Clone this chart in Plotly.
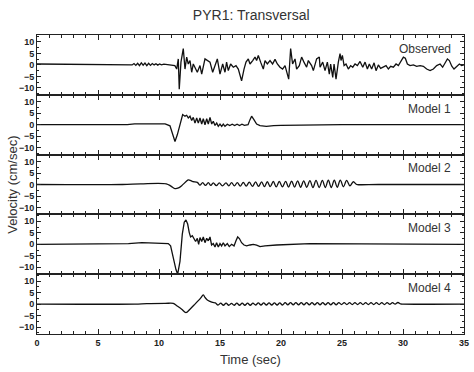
import plotly.graph_objects as go
from plotly.subplots import make_subplots

panel_labels = ["Observed", "Model 1", "Model 2", "Model 3", "Model 4"]
y_tick_step = 5
x_tick_step = 5

t_obs = [0, 3, 6, 7.6, 7.8, 7.95, 8.1, 8.25, 8.4, 8.55, 8.7, 8.85, 9.0, 9.15, 9.3, 9.45, 9.6, 9.75, 9.9,
         10.05, 10.2, 10.4, 10.6, 10.8, 11.0, 11.3,
         11.45, 11.58, 11.66, 11.80, 11.99, 12.13, 12.27, 12.40, 12.54, 12.68, 12.81, 12.95, 13.14, 13.36,
         13.50, 13.77, 14.04, 14.18, 14.40, 14.59, 14.78, 15.00, 15.22, 15.41, 15.54, 15.68, 15.87, 16.09,
         16.31, 16.50, 16.77, 16.97, 17.13, 17.32, 17.46, 17.68, 17.87, 18.00, 18.14, 18.33, 18.55, 18.69,
         18.88, 19.10, 19.31, 19.51, 19.70, 19.92, 20.13, 20.33, 20.46, 20.63, 20.79, 20.95, 21.15, 21.28,
         21.50, 21.69, 21.88, 22.10, 22.24, 22.51, 22.65, 22.92, 23.14,
         23.20, 23.42, 23.61, 23.80, 23.96, 24.07, 24.24, 24.35, 24.51, 24.70, 24.84, 24.92, 25.03, 25.17,
         25.33, 25.52, 25.71, 25.88, 26.07, 26.26, 26.48, 26.70, 26.89, 27.08, 27.24, 27.43, 27.63, 27.79,
         27.98, 28.17, 28.39, 28.61, 28.80, 28.99, 29.21, 29.43, 29.62, 29.81, 30.03, 30.19, 30.36, 30.58,
         30.85, 31.12, 31.40, 31.67, 31.94, 32.22, 32.49, 32.76, 33.04, 33.25, 33.45, 33.64, 33.80, 34.00,
         34.18, 34.40, 34.62, 34.81, 35.0]
v_obs = [0.4, 0.3, 0.1, 0.0, 0.0, 0.6, -0.2, 0.7, -0.3, 0.9, -0.1, 0.8, -0.3, 0.7, -0.2, 0.6, 0.0, 0.5, -0.1,
         0.4, 0.0, 0.3, 0.1, 0.2, 0.0, -0.3,
         -1.8, 2.6, -10.6, 1.2, 7.1, -1.8, 3.4, 0.4, 1.9, -3.2, 0.4, -1.0, -3.2, -0.3,
         -4.0, 2.6, 1.9, 1.2, -3.2, -0.3, 2.6, -4.0, 0.4, -3.2, 1.2, -2.5, 0.4, -1.0,
         -0.3, -1.8, -6.9, -1.8, 1.2, 2.6, 0.4, 1.9, 3.4, 1.9, 4.1, 1.2, -1.8, 1.9,
         0.4, 1.9, 0.4, 2.4, 0.4, -1.0, -1.8, -0.3, -3.2, -6.2, 7.1, 0.4, 2.6, -1.8,
         -0.3, 3.4, 1.2, -1.0, 1.9, -0.3, -2.5, 2.6, 3.4,
         -1.0, 1.2, -2.5, 1.2, -4.0, 0.4, -5.4, 0.4, -6.2, 1.2, 4.9, 1.9, 4.1, -0.3,
         0.4, -1.8, -0.3, -1.0, 0.4, -0.3, 1.5, -1.0, 1.2, -1.8, 0.4, -1.8, 0.9, -2.5,
         0.0, -1.5, -1.0, -0.3, -1.8, -0.6, -1.0, 0.4, -0.3, 1.2, 3.4, 2.9, 0.4, -0.3,
         0.0, -0.6, -0.3, -0.6, -1.8, -2.5, -1.8, -0.3, 0.4, -1.0, 1.2, 2.6, 1.9, -0.6,
         -1.8, -0.6, 0.4, -0.3, 0.0]

t_m1 = [0, 7.4, 8.0, 9.5, 10.5, 10.9, 11.17, 11.31, 11.5, 11.72, 11.94, 12.13, 12.27, 12.4, 12.54, 12.68,
        12.81, 12.95, 13.09, 13.22, 13.36, 13.5, 13.63, 13.77, 13.91, 14.04, 14.18, 14.32, 14.45, 14.59,
        14.73, 14.86, 15.0, 15.14, 15.27, 15.41, 15.6, 15.8, 16.0, 16.2, 16.4, 16.6, 16.8, 17.0, 17.15,
        17.3, 17.46, 17.59, 17.78, 18.0, 18.28, 18.8, 19.4, 20, 25, 30, 30.9, 31.5, 35]
v_m1 = [0, 0, 0.4, 0.5, 0.4, -0.5, -5.0, -7.3, -4.4, 0.7, 4.4, 3.7, 4.1, 2.9, 3.7, 1.8,
        3.2, 0.7, 2.9, 0.7, 2.9, 0.3, 2.6, 0.0, 2.6, 0.3, 3.2, 0.3, 1.5, -0.3,
        0.7, -0.7, 0.3, -0.7, 0.3, -0.7, 0.2, -0.4, 0.2, -0.4, 0.2, -0.4, 0.2, -0.3, 0.0,
        0.0, 2.2, 3.7, 2.2, 0.3, -0.4, -0.7, -0.4, -0.3, 0.0, 0.1, 0.3, 0.0, 0.0]

t_m2 = [0, 7, 8.5, 10.6, 10.98, 11.31, 11.6, 11.86, 12.27, 12.4, 12.68, 12.81,
        13.14, 13.36, 13.58, 13.81, 14.04, 14.25, 14.45, 14.7, 14.94, 15.2, 15.49, 15.72, 15.95, 16.18,
        16.42, 16.66, 16.91, 17.15, 17.40, 17.66, 17.92, 18.16, 18.41, 18.64, 18.88, 19.12, 19.37, 19.61,
        19.86, 20.12, 20.38, 20.62, 20.87, 21.11, 21.36, 21.61, 21.86, 22.11, 22.37, 22.62, 22.87, 23.13,
        23.39, 23.63, 23.88, 24.12, 24.37, 24.61, 24.86, 25.12, 25.38, 25.65, 25.93, 26.2, 26.5, 28, 35]
v_m2 = [0, 0, 0.3, 0.3, -0.7, -1.8, -1.5, -0.5, 1.5, 2.0, 1.5, 1.2,
        0.9, -0.3, 0.8, -0.4, 0.8, -0.4, 0.7, -0.5, 0.7, -0.6, 0.7, -0.6, 0.8, -0.6,
        0.8, -0.7, 0.9, -0.7, 1.0, -0.8, 1.1, -0.8, 1.1, -0.9, 1.2, -0.9, 1.3, -1.0,
        1.3, -1.0, 1.4, -1.1, 1.5, -1.1, 1.6, -1.2, 1.6, -1.2, 1.7, -1.3, 1.8, -1.3,
        1.8, -1.3, 1.9, -1.3, 1.9, -1.2, 1.9, -1.0, 1.8, -0.6, 1.2, 0.0, -0.1, 0.0, 0.0]

t_m3 = [0, 6.5, 7.5, 8.6, 9.5, 10.5, 10.76, 10.95, 11.17, 11.39, 11.53, 11.72, 11.91, 12.07, 12.21,
        12.35, 12.48, 12.59, 12.73, 12.87, 13.0, 13.14, 13.25, 13.36, 13.5, 13.63, 13.77, 13.91, 14.04,
        14.18, 14.31, 14.45, 14.59, 14.72, 14.86, 15.0, 15.13, 15.27, 15.41, 15.6, 15.76, 15.95, 16.15,
        16.31, 16.45, 16.59, 16.77, 16.97, 17.18, 17.46, 17.73, 18.0, 18.28, 18.69, 19.64, 22.37, 25, 29,
        30.6, 31.2, 35]
v_m3 = [0, 0, 0.3, 0.7, 0.5, 0.3, 0.3, -0.7, -6.0, -11.0, -13.0, -7.4, 4.4, 9.6, 10.6,
        8.8, 5.1, 3.2, 3.7, 2.2, 1.2, 2.6, 0.0, 2.9, 1.2, 3.2, 0.7, 2.6, 1.5,
        3.2, -0.3, 0.3, -1.2, 0.7, -1.2, 0.3, -0.7, 0.7, -0.7, 0.3, -1.0, 0.0, -0.7,
        1.5, 3.2, 2.5, 0.7, -0.3, -0.7, -0.3, 0.0, -0.4, -1.0, -0.7, -0.3, 0.3, 0.2, 0.1,
        0.3, 0.0, 0.0]

t_m4 = [0, 8, 9, 10.5, 11.17, 11.45, 11.86, 12.21, 12.54, 12.95, 13.22, 13.41, 13.63, 13.77, 13.96,
        14.18, 14.4,
        14.62, 14.84, 15.06, 15.28, 15.50, 15.72, 15.94, 16.16, 16.38, 16.60, 16.82, 17.04, 17.26, 17.48,
        17.70, 17.92, 18.14, 18.36, 18.58, 18.80, 19.02, 19.24, 19.46, 19.68, 19.90, 20.12, 20.34, 20.56,
        20.78, 21.00, 21.22, 21.44, 21.66, 21.88, 22.10, 22.32, 22.54, 22.76, 22.98, 23.20, 23.42, 23.64,
        23.86, 24.08, 24.30, 24.52, 24.74, 24.96, 25.18, 25.40, 25.62, 25.84, 26.06, 26.28, 26.50, 26.72,
        26.94, 27.16, 27.38, 27.60, 27.82, 28.04, 28.26, 28.48, 28.70, 28.92, 29.14, 29.36, 29.58, 29.80,
        30.0, 35]
v_m4 = [0, 0, 0.2, 0.3, 0.3, -0.7, -2.2, -3.7, -2.2, 0.0, 1.5, 2.6, 4.0, 2.9, 1.8,
        1.2, 0.7,
        0.5, -0.4, 0.4, -0.5, 0.4, -0.5, 0.3, -0.5, 0.4, -0.5, 0.4, -0.5, 0.4, -0.5,
        0.4, -0.4, 0.5, -0.4, 0.5, -0.4, 0.5, -0.4, 0.5, -0.4, 0.5, -0.4, 0.6, -0.3,
        0.6, -0.3, 0.6, -0.3, 0.6, -0.3, 0.6, -0.3, 0.6, -0.3, 0.6, -0.3, 0.6, -0.3,
        0.6, -0.3, 0.6, -0.3, 0.6, -0.2, 0.6, -0.2, 0.6, -0.2, 0.6, -0.2, 0.6, -0.2,
        0.6, -0.2, 0.6, -0.2, 0.6, -0.2, 0.6, -0.2, 0.6, -0.1, 0.6, 0.0, 0.7, 0.1,
        0.0, 0.0]

series = [(t_obs, v_obs, "linear"), (t_m1, v_m1, "linear"), (t_m2, v_m2, "spline"),
          (t_m3, v_m3, "linear"), (t_m4, v_m4, "spline")]

fig = make_subplots(rows=5, cols=1, shared_xaxes=True, vertical_spacing=0)

for i, (t, v, shape) in enumerate(series):
    fig.add_trace(go.Scatter(x=t, y=v, mode="lines", line=dict(color="#111", width=1.3, shape=shape),
                             showlegend=False, hoverinfo="skip"), row=i + 1, col=1)

tick_font = dict(family="Liberation Sans Narrow, Liberation Sans, Arial", size=9, color="#222", weight="bold")
axis_line = dict(showline=True, linecolor="#222", linewidth=1, mirror="ticks", showgrid=False,
                 zeroline=False, ticks="inside", tickcolor="#222", automargin=False)

for i in range(5):
    fig.update_yaxes(range=[-13, 13], tickmode="linear", tick0=0, dtick=y_tick_step, ticklen=4, tickwidth=1,
                     minor=dict(dtick=2.5, tick0=0, ticklen=2, ticks="inside", tickcolor="#222"),
                     tickfont=tick_font, **axis_line, row=i + 1, col=1)
    fig.update_xaxes(range=[0, 35], tickmode="linear", tick0=0, dtick=x_tick_step, ticklen=5, tickwidth=1,
                     minor=dict(dtick=1, tick0=0, ticklen=3, ticks="inside", tickcolor="#222"),
                     tickfont=tick_font, showticklabels=(i == 4), **axis_line, row=i + 1, col=1)

annotations = []
for i, lab in enumerate(panel_labels):
    yname = "y domain" if i == 0 else f"y{i + 1} domain"
    xname = "x domain" if i == 0 else f"x{i + 1} domain"
    annotations.append(dict(text=lab, xref=xname, yref=yname, x=0.975, y=0.77, xanchor="right",
                            yanchor="middle", showarrow=False,
                            font=dict(family="Liberation Sans, Arial", size=12, color="#333")))
annotations.append(dict(text="Velocity (cm/sec)", xref="paper", yref="paper", x=-0.058, y=0.5,
                        textangle=-90, showarrow=False, xanchor="center", yanchor="middle",
                        font=dict(family="Liberation Sans, Arial", size=13, color="#333")))
annotations.append(dict(text="Time (sec)", xref="paper", yref="paper", x=0.5, y=-0.084,
                        showarrow=False, xanchor="center", yanchor="middle",
                        font=dict(family="Liberation Sans, Arial", size=13, color="#333")))

fig.update_layout(
    width=474, height=372,
    margin=dict(l=37, r=10, t=35, b=38, autoexpand=False),
    paper_bgcolor="white", plot_bgcolor="white",
    title=dict(text="PYR1: Transversal", x=0.53, xanchor="center", y=0.96, yanchor="middle",
               font=dict(family="Liberation Sans, Arial", size=14, color="#333")),
    annotations=annotations,
    hovermode=False,
)

fig.write_html("out.html", config={"displayModeBar": False},
               post_script="document.body.style.margin='0';document.body.style.overflow='hidden';")
